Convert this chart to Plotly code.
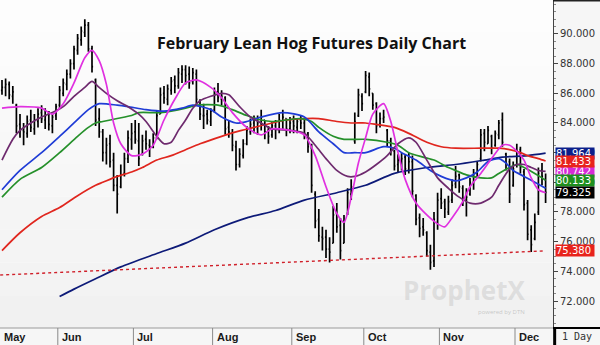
import plotly.graph_objects as go

# ---------------- DATA ----------------
bar_opens = [86.2, 86.4, 86.6, 85.8, 85.2, 83.9, 83.5, 83.3, 84.2, 83.6,
             84.1, 84.7, 84.2, 84.6, 83.8, 84.5, 85.2, 86.0, 86.6, 87.3,
             88.0, 88.9, 89.6, 90.1, 90.6, 89.0, 86.9, 84.3, 83.4, 82.0,
             82.6, 81.5, 79.8, 79.7, 80.6, 81.6, 82.9, 83.4, 82.8, 81.9,
             82.9, 82.5, 82.4, 83.0, 84.6, 86.0, 85.6, 86.2, 86.9, 86.5,
             87.3, 87.6, 87.3, 86.8, 87.3, 85.5, 84.5, 84.6, 84.1, 84.9,
             86.1, 85.6, 85.7, 83.7, 83.3, 82.4, 81.2, 81.8, 82.6, 83.4,
             84.0, 83.6, 84.0, 84.2, 83.5, 83.2, 83.8, 83.6, 84.1, 84.3,
             83.6, 84.1, 83.7, 84.2, 84.0, 83.3, 82.3, 79.2, 77.5, 76.3,
             76.3, 75.5, 75.9, 77.9, 77.1, 75.9, 77.9, 79.2, 82.8, 84.5,
             85.8, 86.1, 87.1, 86.0, 85.3, 83.9, 84.3, 83.5, 82.8, 82.1,
             81.2, 81.4, 81.7, 80.8, 81.4, 79.1, 77.6, 77.0, 76.6, 75.3,
             74.7, 77.3, 78.9, 78.7, 78.0, 78.8, 79.9, 80.5, 79.6, 78.8,
             79.2, 80.0, 80.6, 81.6, 83.3, 82.6, 83.1, 82.5, 83.2, 84.2,
             81.9, 81.4, 79.8, 81.2, 82.2, 80.7, 78.6, 76.8, 76.2, 78.0,
             80.8, 80.2]
bar_highs = [86.9, 87.0, 86.8, 86.5, 85.3, 84.6, 84.0, 84.5, 84.9, 84.6,
             85.0, 85.2, 85.0, 84.8, 84.6, 85.3, 86.5, 87.0, 87.6, 88.3,
             89.2, 90.0, 90.5, 91.0, 90.8, 89.2, 87.0, 85.0, 83.6, 83.0,
             83.2, 82.0, 80.5, 81.2, 82.0, 83.5, 84.0, 84.2, 84.0, 83.2,
             83.5, 82.9, 83.3, 84.8, 86.4, 86.5, 86.6, 87.1, 87.2, 87.7,
             87.9, 87.9, 87.8, 87.7, 87.6, 85.6, 85.3, 84.9, 85.0, 86.4,
             86.7, 86.2, 85.8, 84.2, 83.6, 82.8, 82.3, 82.9, 83.8, 84.3,
             84.5, 84.5, 84.9, 84.2, 83.8, 84.1, 84.2, 84.6, 84.9, 84.3,
             84.4, 84.5, 84.3, 84.5, 84.3, 83.4, 82.6, 79.4, 78.2, 77.0,
             76.8, 76.3, 78.4, 78.6, 77.6, 77.8, 79.6, 80.2, 84.7, 86.3,
             86.0, 87.5, 87.4, 86.0, 85.4, 84.7, 84.9, 83.6, 83.0, 82.2,
             81.9, 82.0, 81.9, 82.0, 81.8, 79.2, 77.9, 77.6, 76.7, 75.8,
             78.0, 79.3, 79.6, 78.9, 79.1, 80.2, 81.1, 80.6, 79.8, 79.6,
             80.3, 80.9, 81.4, 83.6, 83.6, 83.8, 83.2, 83.5, 84.2, 84.7,
             82.0, 81.6, 81.4, 82.6, 82.4, 80.9, 78.8, 77.1, 77.9, 81.0,
             81.3, 80.6]
bar_lows = [85.9, 85.8, 85.6, 85.3, 83.3, 83.0, 82.5, 83.0, 83.4, 83.2,
            83.7, 84.0, 83.6, 83.5, 83.3, 84.2, 85.0, 85.8, 86.2, 87.0,
            87.6, 88.6, 89.2, 89.8, 88.8, 87.4, 83.8, 83.0, 81.4, 81.2,
            81.0, 79.4, 77.9, 79.6, 80.4, 81.3, 82.2, 82.6, 81.1, 81.8,
            82.2, 81.7, 82.3, 82.9, 84.6, 85.3, 85.2, 85.9, 86.0, 86.3,
            86.7, 86.6, 86.3, 86.6, 85.3, 84.2, 83.6, 83.9, 83.8, 84.7,
            85.4, 85.2, 83.2, 83.0, 82.1, 80.8, 81.0, 81.6, 82.5, 83.2,
            83.3, 83.2, 83.5, 82.9, 82.6, 83.0, 82.9, 83.3, 83.6, 83.1,
            83.3, 83.3, 83.3, 83.6, 82.9, 82.0, 79.3, 76.9, 76.0, 75.4,
            74.9, 74.6, 75.9, 76.6, 74.8, 75.9, 77.8, 78.8, 82.6, 84.4,
            84.8, 86.0, 85.8, 84.9, 83.3, 83.7, 84.0, 82.4, 81.8, 80.8,
            80.7, 80.8, 80.5, 80.6, 79.0, 77.1, 76.3, 76.4, 75.0, 74.1,
            74.3, 76.8, 78.2, 77.6, 77.8, 78.6, 79.6, 79.3, 78.4, 77.7,
            79.1, 79.5, 80.3, 81.4, 82.1, 82.6, 81.9, 82.4, 82.9, 82.4,
            80.8, 78.6, 79.7, 81.0, 80.6, 78.1, 76.1, 75.3, 76.1, 77.8,
            79.8, 78.6]
bar_closes = [86.4, 86.6, 85.9, 86.1, 83.8, 83.5, 83.4, 84.1, 83.7, 84.2,
              84.6, 84.3, 84.5, 83.9, 84.4, 85.1, 86.2, 86.7, 87.3, 88.0,
              89.0, 89.7, 90.2, 90.6, 89.0, 87.8, 84.2, 83.4, 82.0, 82.5,
              81.4, 79.8, 79.2, 80.5, 81.6, 83.0, 83.3, 82.9, 81.6, 82.8,
              82.6, 82.4, 83.0, 84.5, 85.9, 85.7, 86.3, 86.8, 86.5, 87.4,
              87.6, 87.2, 86.7, 87.4, 85.6, 84.6, 84.5, 84.2, 84.8, 86.0,
              85.7, 85.8, 83.6, 83.4, 82.5, 81.2, 81.9, 82.6, 83.5, 83.9,
              83.7, 84.0, 84.4, 83.4, 83.1, 83.8, 83.6, 84.2, 84.4, 83.6,
              84.0, 83.8, 84.1, 84.0, 83.3, 82.4, 79.8, 77.4, 76.4, 76.2,
              75.5, 75.3, 77.8, 77.0, 75.4, 77.3, 79.3, 79.7, 84.1, 85.9,
              85.3, 87.2, 86.3, 85.2, 83.8, 84.3, 84.4, 82.8, 82.2, 81.1,
              81.5, 81.6, 80.9, 81.4, 79.4, 77.5, 76.9, 76.8, 75.4, 74.6,
              77.5, 78.8, 78.6, 78.2, 78.7, 79.8, 80.4, 79.7, 78.9, 79.0,
              80.0, 80.6, 81.2, 83.2, 82.7, 83.5, 82.3, 83.3, 84.0, 82.7,
              81.3, 79.2, 80.9, 82.1, 81.0, 78.5, 76.5, 75.8, 77.3, 80.6,
              80.4, 79.325]

# moving averages, read at selected bar positions
ma_fast_idx = [0, 5, 11, 14, 17, 20, 23, 25, 27, 29, 31, 33, 36, 39, 42, 45, 48, 51, 54, 58,
               61, 64, 68, 72, 75, 80, 84, 87, 90, 93, 95, 97, 99, 101, 103, 106, 108, 110,
               112, 115, 118, 121, 123, 125, 128, 130, 133, 136, 139, 141, 143, 145, 147,
               149, 151]
ma_fast_val = [85.0, 85.1, 85.0, 84.6, 85.3, 86.7, 88.4, 88.9, 88.2, 86.6, 84.0, 82.6, 81.8,
               81.9, 82.5, 84.2, 85.6, 86.7, 86.9, 86.4, 85.7, 84.7, 83.7, 83.2, 83.6, 83.5,
               83.2, 81.8, 79.7, 77.9, 77.3, 79.0, 81.3, 83.0, 84.6, 85.3, 84.1, 82.0, 80.2,
               78.6, 77.8, 77.2, 77.0, 77.6, 78.7, 79.7, 80.6, 81.6, 82.5, 82.5, 82.1, 81.5,
               80.3, 79.5, 79.3]

ma_mid_idx = [0, 3, 5, 8, 11, 14, 17, 20, 23, 25, 27, 29, 32, 35, 38, 40, 43, 45, 47, 49, 51,
              53, 55, 58, 61, 63, 66, 69, 72, 75, 80, 84, 87, 90, 93, 96, 98, 101, 104, 107,
              110, 113, 115, 118, 121, 124, 127, 130, 133, 136, 138, 141, 143, 145, 147,
              149, 151]
ma_mid_val = [81.5, 82.9, 83.5, 84.0, 84.4, 84.7, 85.1, 85.8, 86.4, 86.8, 86.4, 86.0, 85.5,
              85.1, 84.6, 84.1, 83.1, 82.6, 82.7, 83.5, 84.2, 85.0, 85.5, 85.8, 86.0, 85.9,
              85.1, 84.4, 84.0, 83.6, 83.5, 83.3, 82.5, 81.6, 80.8, 80.4, 80.4, 80.7, 81.2,
              81.8, 82.6, 83.0, 82.7, 81.5, 80.3, 79.6, 79.0, 78.6, 78.6, 79.0, 79.8, 80.9,
              81.2, 81.2, 81.0, 80.8, 80.742]

ma_blue_idx = [0, 5, 11, 16, 20, 24, 27, 32, 35, 40, 45, 50, 53, 58, 61, 65, 68, 72, 78, 84,
               88, 92, 95, 98, 101, 106, 109, 111, 115, 119, 122, 126, 129, 132, 135, 138,
               140, 142, 145, 148, 151]
ma_blue_val = [79.5, 80.8, 82.0, 83.1, 84.0, 84.9, 85.3, 85.2, 85.1, 84.9, 84.8, 85.0, 85.2,
               84.9, 84.4, 84.0, 84.1, 84.4, 84.7, 84.4, 83.4, 82.6, 82.0, 82.0, 82.0, 82.4,
               82.3, 82.0, 81.5, 80.8, 80.4, 80.1, 80.3, 80.7, 81.4, 81.6, 81.3, 80.8, 80.4,
               80.0, 79.6]

ma_green_idx = [0, 5, 11, 16, 21, 24, 26, 28, 32, 36, 38, 44, 51, 54, 60, 64, 68, 72, 75, 79,
                83, 86, 88, 92, 95, 101, 107, 110, 113, 117, 120, 124, 126, 129, 133, 136,
                138, 141, 143, 145, 148, 150, 151]
ma_green_val = [79.0, 80.2, 81.0, 82.0, 83.1, 83.7, 84.0, 84.1, 84.3, 84.5, 84.7, 84.7, 85.0,
                85.2, 85.2, 84.9, 84.5, 84.2, 84.1, 84.2, 84.3, 84.1, 83.7, 83.1, 82.9, 82.9,
                82.7, 82.5, 82.0, 81.7, 81.5, 81.0, 80.8, 80.5, 80.3, 80.3, 80.6, 81.0, 81.2,
                81.0, 80.6, 80.3, 80.133]

ma_red_idx = [0, 5, 11, 16, 21, 26, 28, 32, 36, 39, 43, 47, 51, 55, 61, 65, 70, 75, 79, 84,
              88, 93, 97, 101, 104, 109, 113, 118, 122, 126, 133, 138, 141, 144, 146, 149, 151]
ma_red_val = [75.4, 76.6, 77.7, 78.3, 79.1, 79.8, 80.0, 80.4, 80.7, 81.0, 81.5, 81.8, 82.2,
              82.6, 83.1, 83.4, 83.7, 84.0, 84.2, 84.3, 84.3, 84.1, 84.0, 84.0, 83.9, 83.7,
              83.3, 82.7, 82.4, 82.3, 82.3, 82.3, 82.2, 82.0, 81.8, 81.6, 81.433]

ma_navy_idx = [16, 20, 26, 33, 43, 51, 59, 68, 76, 84, 93, 101, 109, 118, 126, 134, 139, 146, 151]
ma_navy_val = [72.3, 72.8, 73.5, 74.3, 75.2, 75.9, 76.8, 77.6, 78.1, 78.8, 79.3, 79.8, 80.6,
               81.0, 81.2, 81.5, 81.7, 81.8, 81.964]

trend_idx = [-0.5, 151]
trend_val = [73.75, 75.38]

month_names = ["May", "Jun", "Jul", "Aug", "Sep", "Oct", "Nov", "Dec"]
month_first_bar = [0, 16, 37, 59, 81, 101, 122, 143]

price_ticks = [72, 74, 76, 78, 80, 82, 84, 86, 88, 90]

last_labels = ["81.964", "80.742", "81.433", "80.133", "79.325", "75.380"]
last_values = [81.964, 80.742, 81.433, 80.133, 79.325, 75.380]
last_colors = ["#0b1f8a", "#d62ad6", "#e8231c", "#1e8f1e", "#000000", "#e8231c"]

# ---------------- FIGURE ----------------
N = len(bar_closes)
xs = list(range(N))

fig = go.Figure()

fig.add_trace(go.Ohlc(
    x=xs, open=bar_opens, high=bar_highs, low=bar_lows, close=bar_closes,
    increasing=dict(line=dict(color="#000000", width=1.7)),
    decreasing=dict(line=dict(color="#000000", width=1.7)),
    tickwidth=0.3, hoverinfo="skip", showlegend=False))

def ma(idx, val, color, width=1.7):
    fig.add_trace(go.Scatter(x=idx, y=val, mode="lines",
                             line=dict(color=color, width=width, shape="spline", smoothing=0.7),
                             hoverinfo="skip", showlegend=False))

ma(ma_navy_idx, ma_navy_val, "#0d1a78")
ma(ma_red_idx, ma_red_val, "#e0261e")
ma(ma_green_idx, ma_green_val, "#25902a")
ma(ma_blue_idx, ma_blue_val, "#1f3cd6")
ma(ma_mid_idx, ma_mid_val, "#6e2a6e")
ma(ma_fast_idx, ma_fast_val, "#e030e0")

fig.add_trace(go.Scatter(x=trend_idx, y=trend_val, mode="lines",
                         line=dict(color="#d0202a", width=1.4, dash="dot"),
                         hoverinfo="skip", showlegend=False))

shapes = []
# gradient plot background
bands = 10
for b in range(bands):
    g = 253 - int(b * 12 / (bands - 1))
    shapes.append(dict(type="rect", xref="paper", yref="paper",
                       x0=0, x1=1, y0=1 - (b + 1) / bands, y1=1 - b / bands,
                       fillcolor=f"rgb({g},{g},{g})", line=dict(width=0), layer="below"))
# bottom strip
shapes.append(dict(type="rect", xref="paper", yref="paper", x0=0, x1=1, y0=-0.06, y1=0,
                   fillcolor="#f6f6f6", line=dict(width=0), layer="below"))
shapes.append(dict(type="line", xref="paper", yref="paper", x0=0, x1=1, y0=0, y1=0,
                   line=dict(color="#9a9a9a", width=1)))
for fb in month_first_bar[1:]:
    shapes.append(dict(type="line", xref="x", yref="paper", x0=fb - 0.5, x1=fb - 0.5,
                       y0=-0.06, y1=0, line=dict(color="#8a8a8a", width=1)))
# right axis bottom box separator
shapes.append(dict(type="line", xref="paper", yref="paper", x0=1.003, x1=1.003,
                   y0=-0.06, y1=0, line=dict(color="#000000", width=3)))
shapes.append(dict(type="line", xref="paper", yref="paper", x0=1.0, x1=1.09, y0=0, y1=0,
                   line=dict(color="#000000", width=2)))
shapes.append(dict(type="line", xref="paper", yref="paper", x0=1.0, x1=1.09, y0=1, y1=1,
                   line=dict(color="#222222", width=3)))

annotations = []
annotations.append(dict(text="<b>February Lean Hog Futures Daily Chart</b>",
                        xref="paper", yref="paper", x=0.564, y=0.909,
                        showarrow=False, font=dict(family="Open Sans", size=16, color="#111111")))
for name, fb in zip(month_names, month_first_bar):
    annotations.append(dict(text="<b>" + name + "</b>", xref="x", yref="paper",
                            x=fb - 0.5, y=-0.026, xanchor="left", yanchor="middle",
                            xshift=2, showarrow=False,
                            font=dict(family="Liberation Sans Narrow, Liberation Sans", size=11,
                                      color="#1a1a1a")))
annotations.append(dict(text="1 Day", xref="paper", yref="paper", x=1.012, y=-0.026,
                        xanchor="left", yanchor="middle", showarrow=False,
                        font=dict(family="DejaVu Sans Mono", size=10, color="#333333")))
for lab, val, col in zip(last_labels, last_values, last_colors):
    annotations.append(dict(text=lab, xref="paper", yref="y", x=1.0036, y=val,
                            xanchor="left", yanchor="middle", showarrow=False,
                            bgcolor=col, width=38, height=11, align="left", borderpad=0,
                            font=dict(family="DejaVu Sans", size=10, color="#ffffff")))
annotations.append(dict(text="<b>ProphetX</b>", xref="paper", yref="paper", x=0.953, y=0.115,
                        xanchor="right", yanchor="middle", showarrow=False,
                        font=dict(family="Open Sans", size=26, color="rgba(195,195,195,0.45)")))
annotations.append(dict(text="powered by DTN", xref="paper", yref="paper", x=0.953, y=0.05,
                        xanchor="right", yanchor="middle", showarrow=False,
                        font=dict(family="Open Sans", size=6, color="rgba(170,170,170,0.6)")))

fig.update_layout(
    width=600, height=345,
    margin=dict(l=0, r=47, t=0, b=17),
    paper_bgcolor="#f6f6f6", plot_bgcolor="#fcfcfc",
    shapes=shapes, annotations=annotations,
    xaxis=dict(range=[-2 / 3.6, 551 / 3.6], showticklabels=False, showgrid=False,
               zeroline=False, showline=False, ticks="", rangeslider=dict(visible=False),
               fixedrange=True),
    yaxis=dict(side="right", range=[70.18, 92.29], tickvals=price_ticks, tickformat=".3f",
               showgrid=False, zeroline=False, showline=True, linecolor="#444444", linewidth=1,
               ticks="outside", ticklen=4, tickcolor="#444444",
               minor=dict(dtick=0.5, ticks="outside", ticklen=2, tickcolor="#888888"),
               tickfont=dict(family="DejaVu Sans", size=10, color="#333333"), fixedrange=True),
)

fig.write_html("out.html")
